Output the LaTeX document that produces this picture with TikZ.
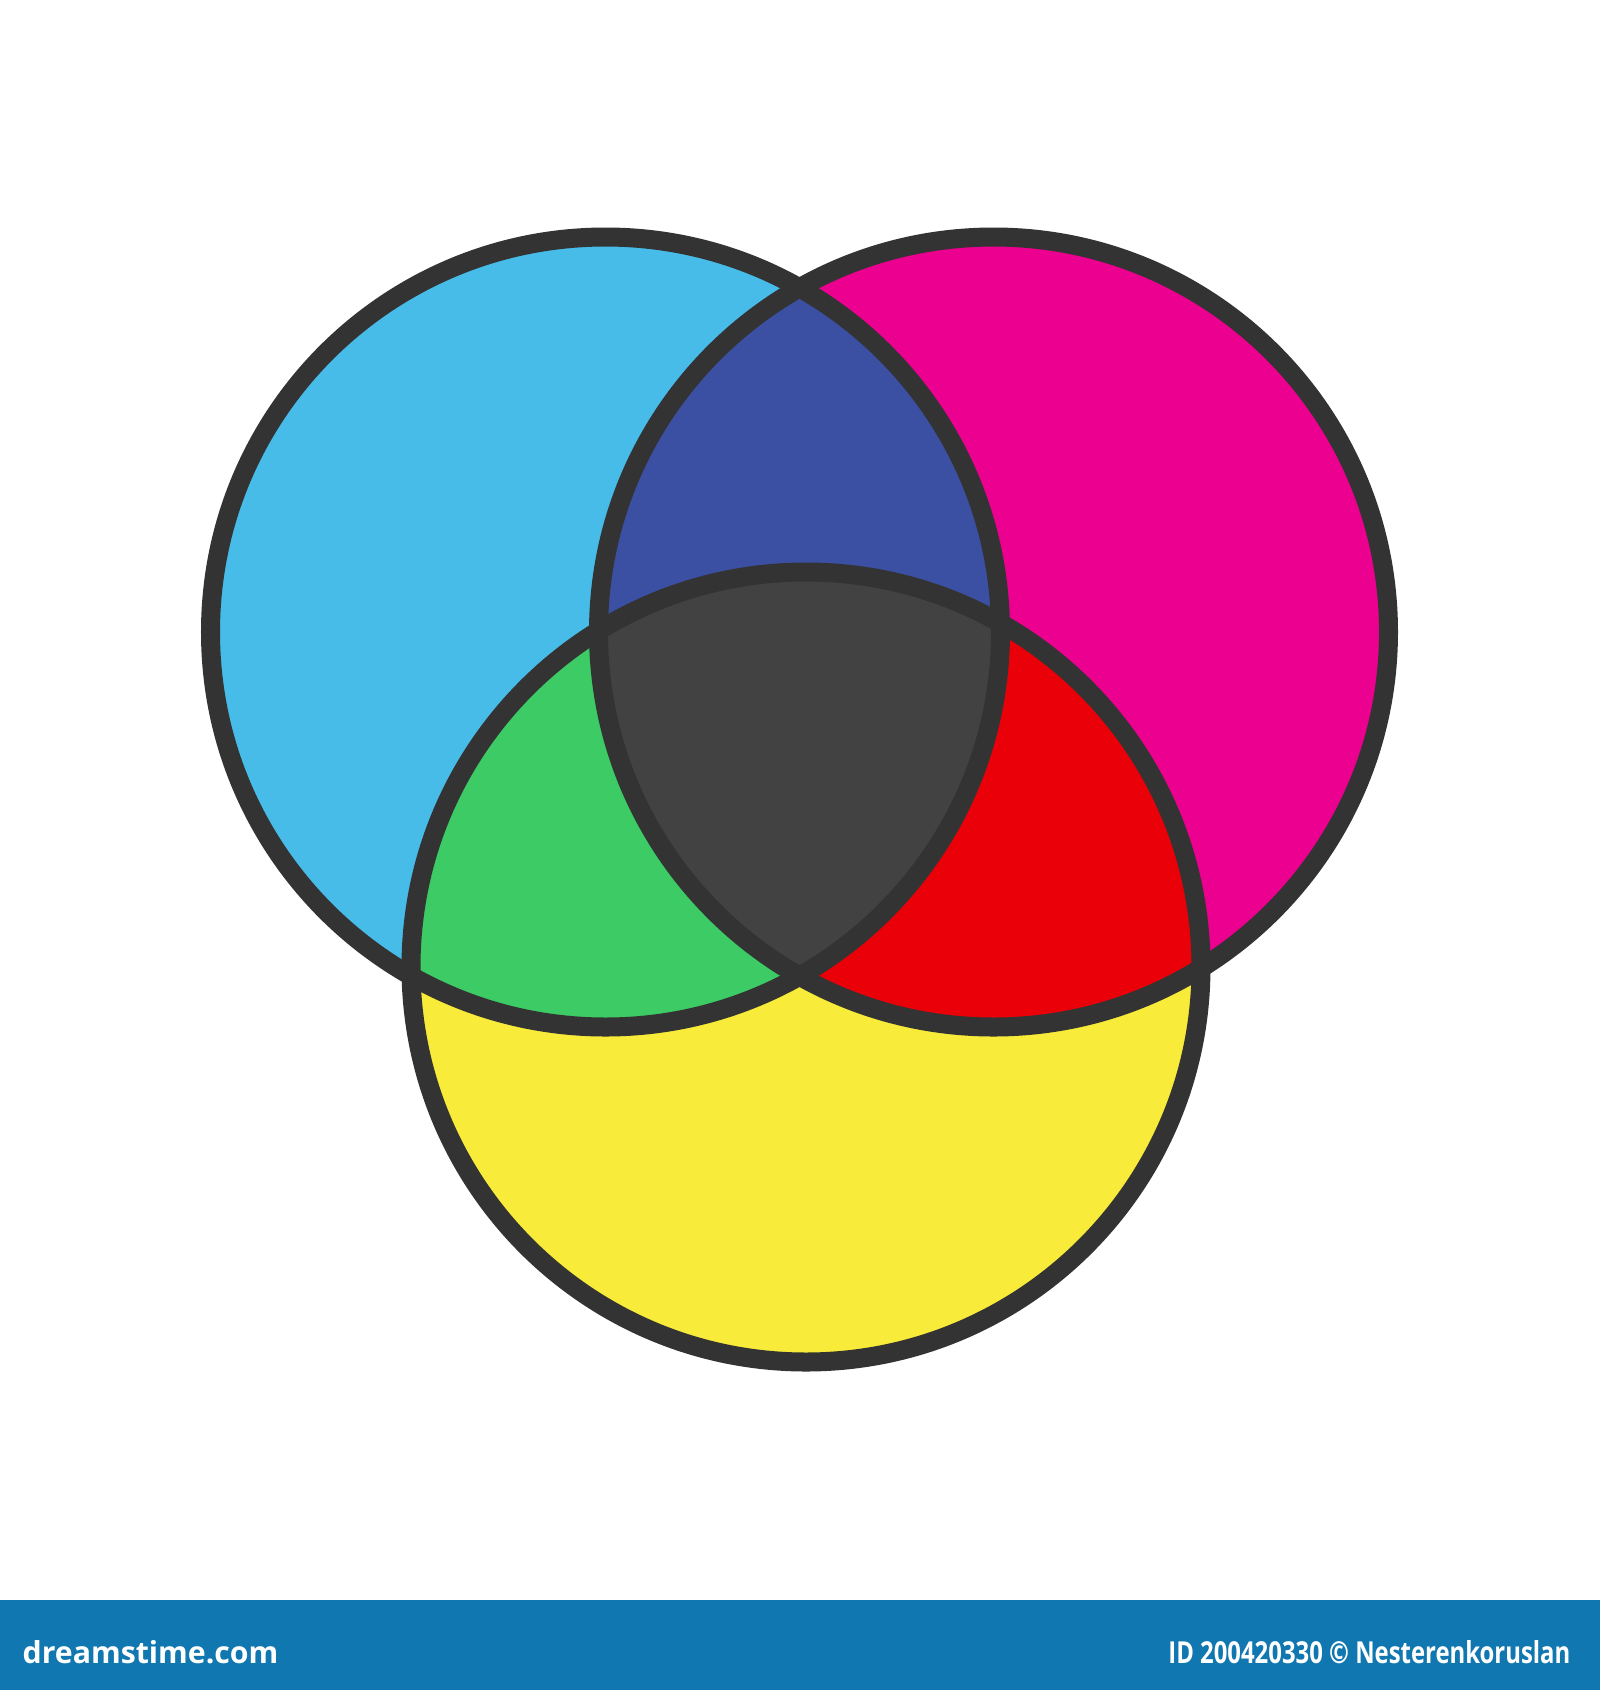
\documentclass[tikz,border=0pt]{standalone}
\usepackage{fontspec}
\setsansfont{Open Sans}
\newfontfamily\narrowsans[FakeStretch=0.79]{Open Sans}
\usepackage{tikz}
\definecolor{cyanfill}{HTML}{48BCE9}
\definecolor{magentafill}{HTML}{EC0090}
\definecolor{yellowfill}{HTML}{F8EB3A}
\definecolor{bluefill}{HTML}{3C50A3}
\definecolor{greenfill}{HTML}{3CCB64}
\definecolor{redfill}{HTML}{EA0008}
\definecolor{darkfill}{HTML}{424242}
\definecolor{rim}{HTML}{333333}
\definecolor{banner}{HTML}{1177B0}
\tikzset{
	rimline/.style={draw=rim, line width=0.19cm},
	bannertext/.style={text=white, font=\sffamily\bfseries\fontsize{8.6}{10}\selectfont, inner sep=0pt}
}

\begin{document}
\begin{tikzpicture}[x=0.01cm, y=-0.01cm]
				\useasboundingbox (0, 0) rectangle (1600, 1690);
				\coordinate (C) at (605.5, 632);
				\coordinate (M) at (993.5, 632);
				\coordinate (Y) at (806, 967);
				% base discs
				\fill[cyanfill] (C) circle (395);
				\fill[magentafill] (M) circle (395);
				\fill[yellowfill] (Y) circle (395);
				% pairwise overlaps
				\begin{scope}
					\clip (C) circle (395);
					\fill[bluefill] (M) circle (395);
					\fill[greenfill] (Y) circle (395);
				\end{scope}
				\begin{scope}
					\clip (M) circle (395);
					\fill[redfill] (Y) circle (395);
				\end{scope}
				% middle
				\begin{scope}
					\clip (C) circle (395);
					\clip (M) circle (395);
					\fill[darkfill] (Y) circle (395);
				\end{scope}
				\draw[rimline] (C) circle (395);
				\draw[rimline] (M) circle (395);
				\draw[rimline] (Y) circle (395);
				% footer
				\fill[banner] (0, 1600) rectangle (1600, 1690);
				\node[bannertext, anchor=west] (site) at (22, 1652) {dreamstime.com};
				\node[bannertext, anchor=east] (credit) at (1571, 1652) {\narrowsans\bfseries ID 200420330 © Nesterenkoruslan};
			\end{tikzpicture}
\end{document}
